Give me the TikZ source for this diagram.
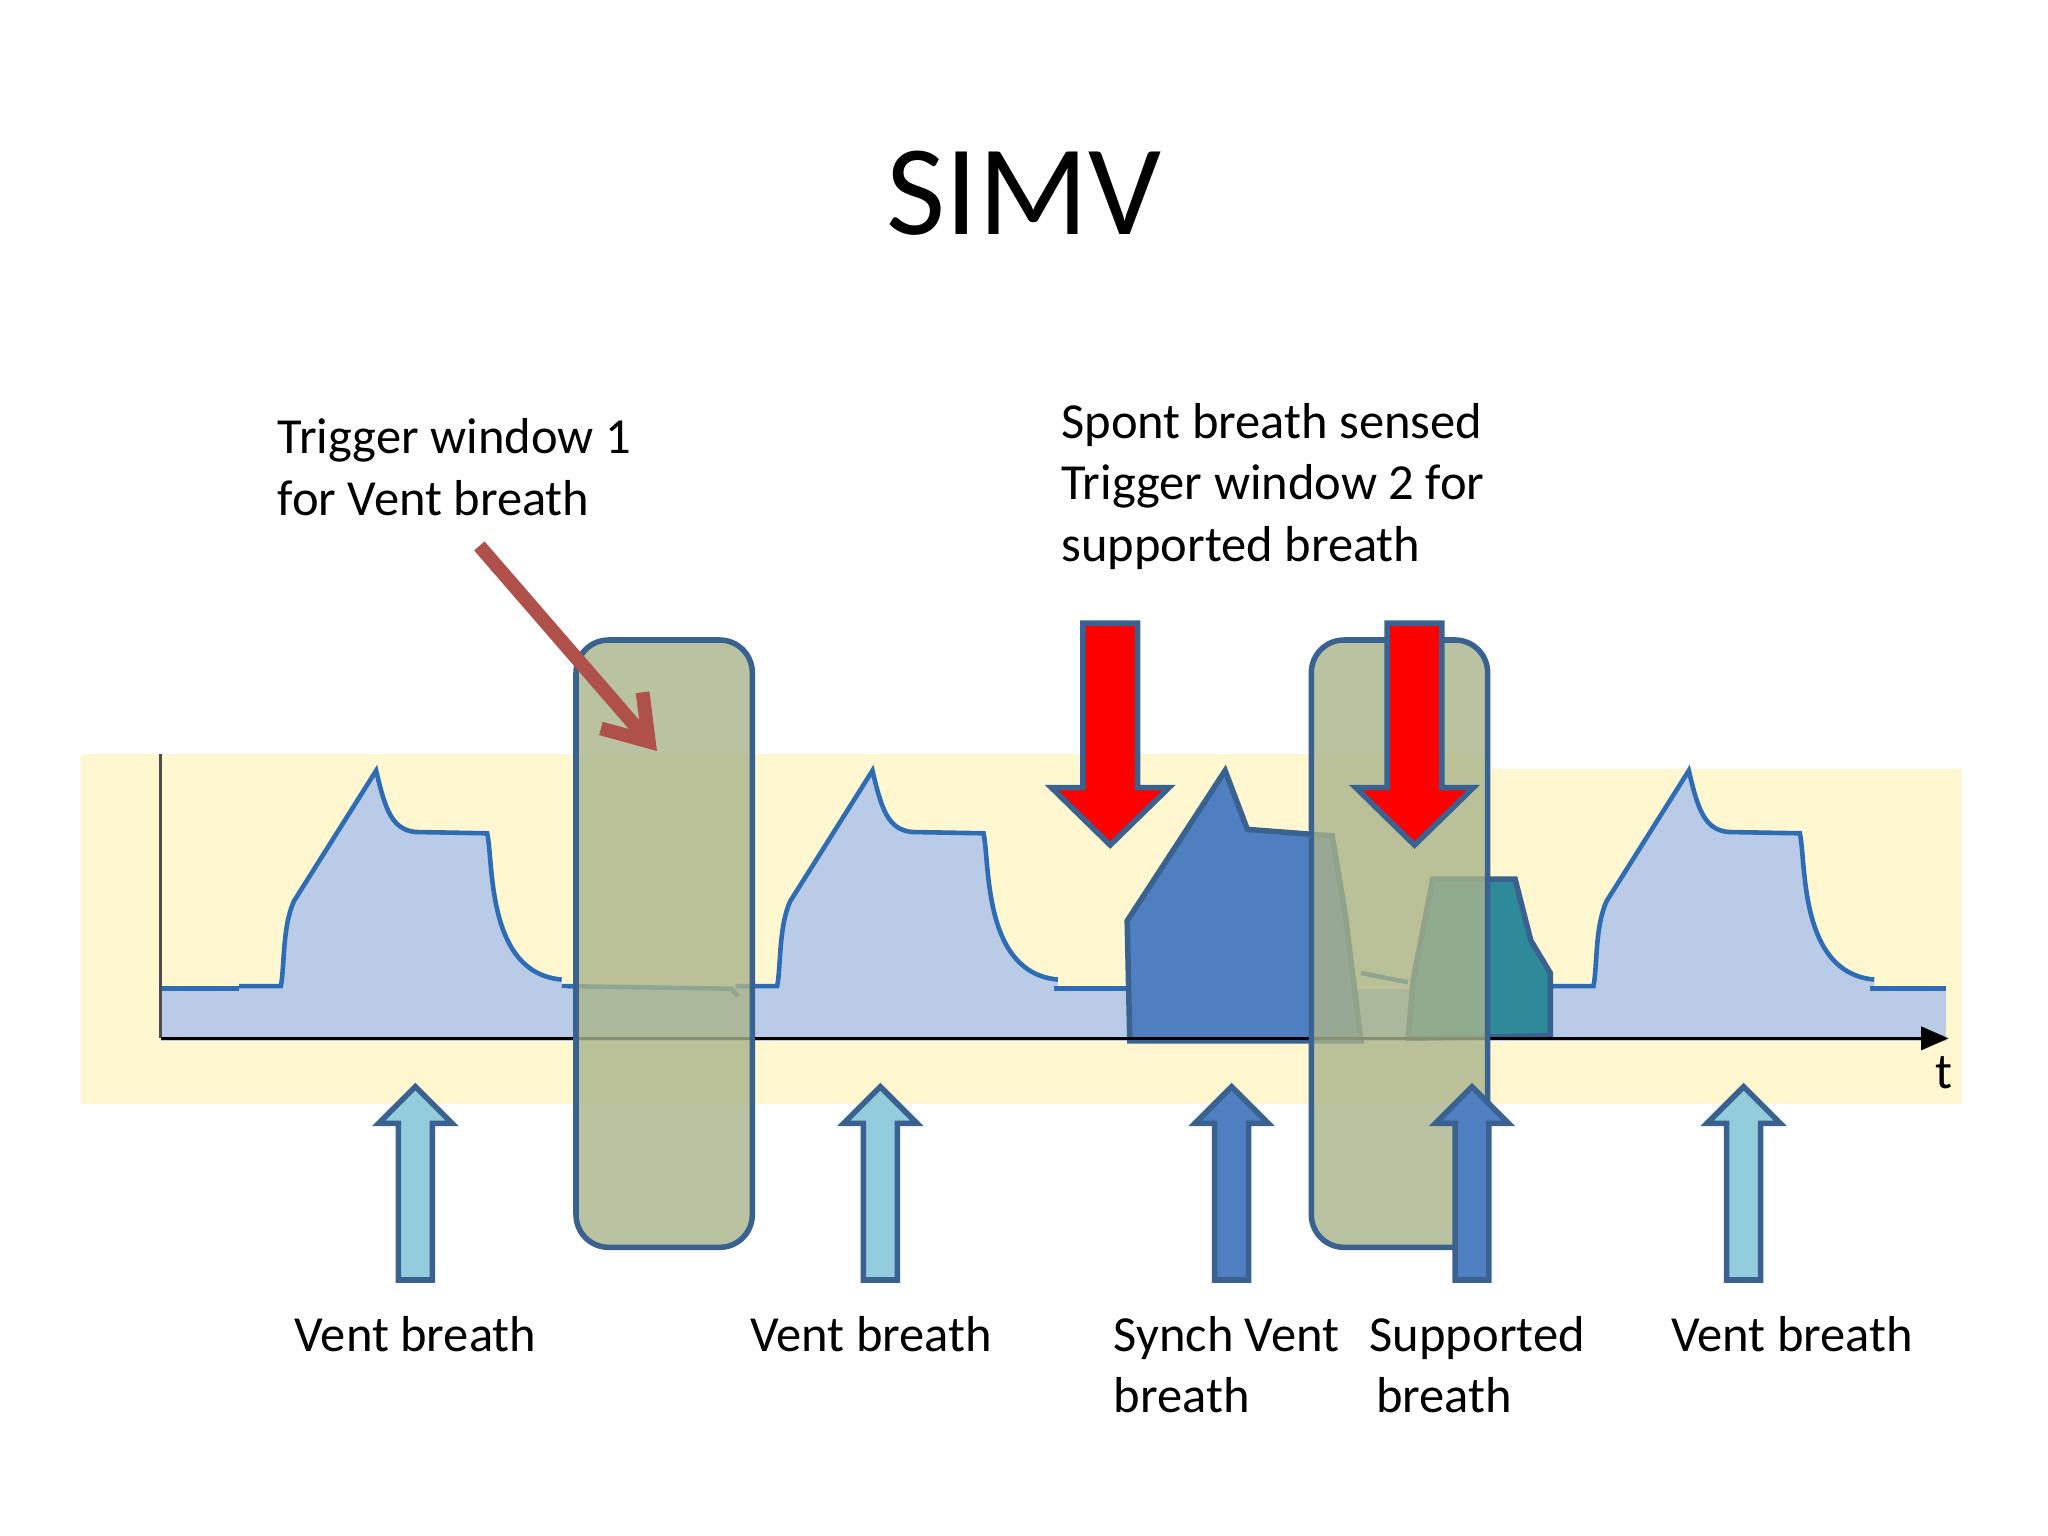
\documentclass[tikz,border=0pt]{standalone}
\usepackage{fontspec}
\setmainfont{Carlito}
\usetikzlibrary{arrows.meta}
\definecolor{bgy}{HTML}{FFF7D0}
\definecolor{lb}{HTML}{B9CBE6}
\definecolor{ln}{HTML}{2E6DB4}
\definecolor{bd}{HTML}{3A6290}
\definecolor{ol}{HTML}{A9B48A}
\definecolor{ar}{HTML}{93CDDD}
\definecolor{db}{HTML}{4F7FC0}
\definecolor{tl}{HTML}{2E8A99}
\definecolor{brn}{HTML}{B0504A}
\tikzset{x=0.01cm,y=-0.01cm,
 lbl/.style={font=\fontsize{11pt}{13.4pt}\selectfont,align=left,anchor=north west,inner sep=0},
 wave/.style={draw=ln,line width=1pt},
 win/.style={draw=bd,line width=1.2pt,fill=ol,fill opacity=0.8,rounded corners=0.25cm},
 uparr/.style={draw=bd,line width=1.2pt},
 redarr/.style={draw=bd,line width=1.2pt,fill=red}}
\newcommand{\ventbreath}[1]{%
 \begin{scope}[xshift=#1*0.01cm]
 \fill[lb] (183,797)--(183,755)--(215,755) .. controls (218,740) and (216,710) .. (225,690)--(288,590) .. controls (295,620) and (300,635) .. (318,637)--(373,638) .. controls (378,660) and (372,745) .. (430,750)--(430,797)--cycle;
 \draw[wave] (183,755)--(215,755) .. controls (218,740) and (216,710) .. (225,690)--(288,590) .. controls (295,620) and (300,635) .. (318,637)--(373,638) .. controls (378,660) and (372,745) .. (430,750);
 \end{scope}}
\begin{document}
\begin{tikzpicture}
\useasboundingbox (0,0) rectangle (1568,1176);
\fill[bgy] (62,577) rectangle (1140,845);
\fill[bgy] (1140,589) rectangle (1502,845);
\fill[lb] (123,757) rectangle (1490,797);
\draw[wave] (123,757)--(183,757);
\ventbreath{0}
\ventbreath{380}
\ventbreath{1005}
\draw[wave] (430,755)--(560,757)--(565,763);
\draw[wave] (807,757)--(862,757);
\draw[wave] (1432,757)--(1490,757);
\draw[wave] (1042,745)--(1078,752);
\path[draw=bd,line width=1.2pt,fill=db] (865,797)--(863,705)--(938,590)--(955,635)--(1020,640)--(1030,700)--(1042,797)--cycle;
\path[draw=bd,line width=1.2pt,fill=tl] (1078,795)--(1082,750)--(1097,673)--(1160,673)--(1172,720)--(1187,745)--(1187,793)--cycle;
\draw[black!70,line width=0.8pt] (123,577)--(123,795);
\coordinate (o) at (123,795);
\coordinate (te) at (1492,795);
\draw[line width=0.8pt,-{Triangle[length=6pt,width=5pt]}] (o)--(te);
\node[lbl] at (1481,808) {t};
\draw[win] (441,490) rectangle (576,955);
\draw[win] (1004,490) rectangle (1139,955);
\coordinate (ba) at (367,418); \coordinate (bb) at (503,575);
\draw[brn,line width=3pt,-{Straight Barb[length=9pt,width=12pt]}] (ba)--(bb);
\foreach \c in {850,1083}{
 \path[redarr] (\c-21,477)--(\c+21,477)--(\c+21,603)--(\c+45,603)--(\c,647)--(\c-45,603)--(\c-21,603)--cycle;}
\foreach \c/\f in {318/ar,674/ar,943/db,1127/db,1335/ar}{
 \path[uparr,fill=\f] (\c-13,980)--(\c-13,860)--(\c-28,860)--(\c,832)--(\c+28,860)--(\c+13,860)--(\c+13,980)--cycle;}
\node[font=\fontsize{28pt}{30pt}\selectfont] (title) at (784,148) {SIMV};
\node[lbl] (tw1) at (212,320) {Trigger window 1\\for Vent breath};
\node[lbl] (sp) at (812,308) {Spont breath sensed\\Trigger window 2 for\\supported breath};
\node[lbl] (v1) at (225,1007) {Vent breath};
\node[lbl] (v2) at (574,1007) {Vent breath};
\node[lbl] (sv) at (852,1007) {Synch Vent\\breath};
\node[lbl] (sb) at (1048,1007) {Supported\\\hspace*{0.05cm}breath};
\node[lbl] (v3) at (1279,1007) {Vent breath};
\end{tikzpicture}
\end{document}
